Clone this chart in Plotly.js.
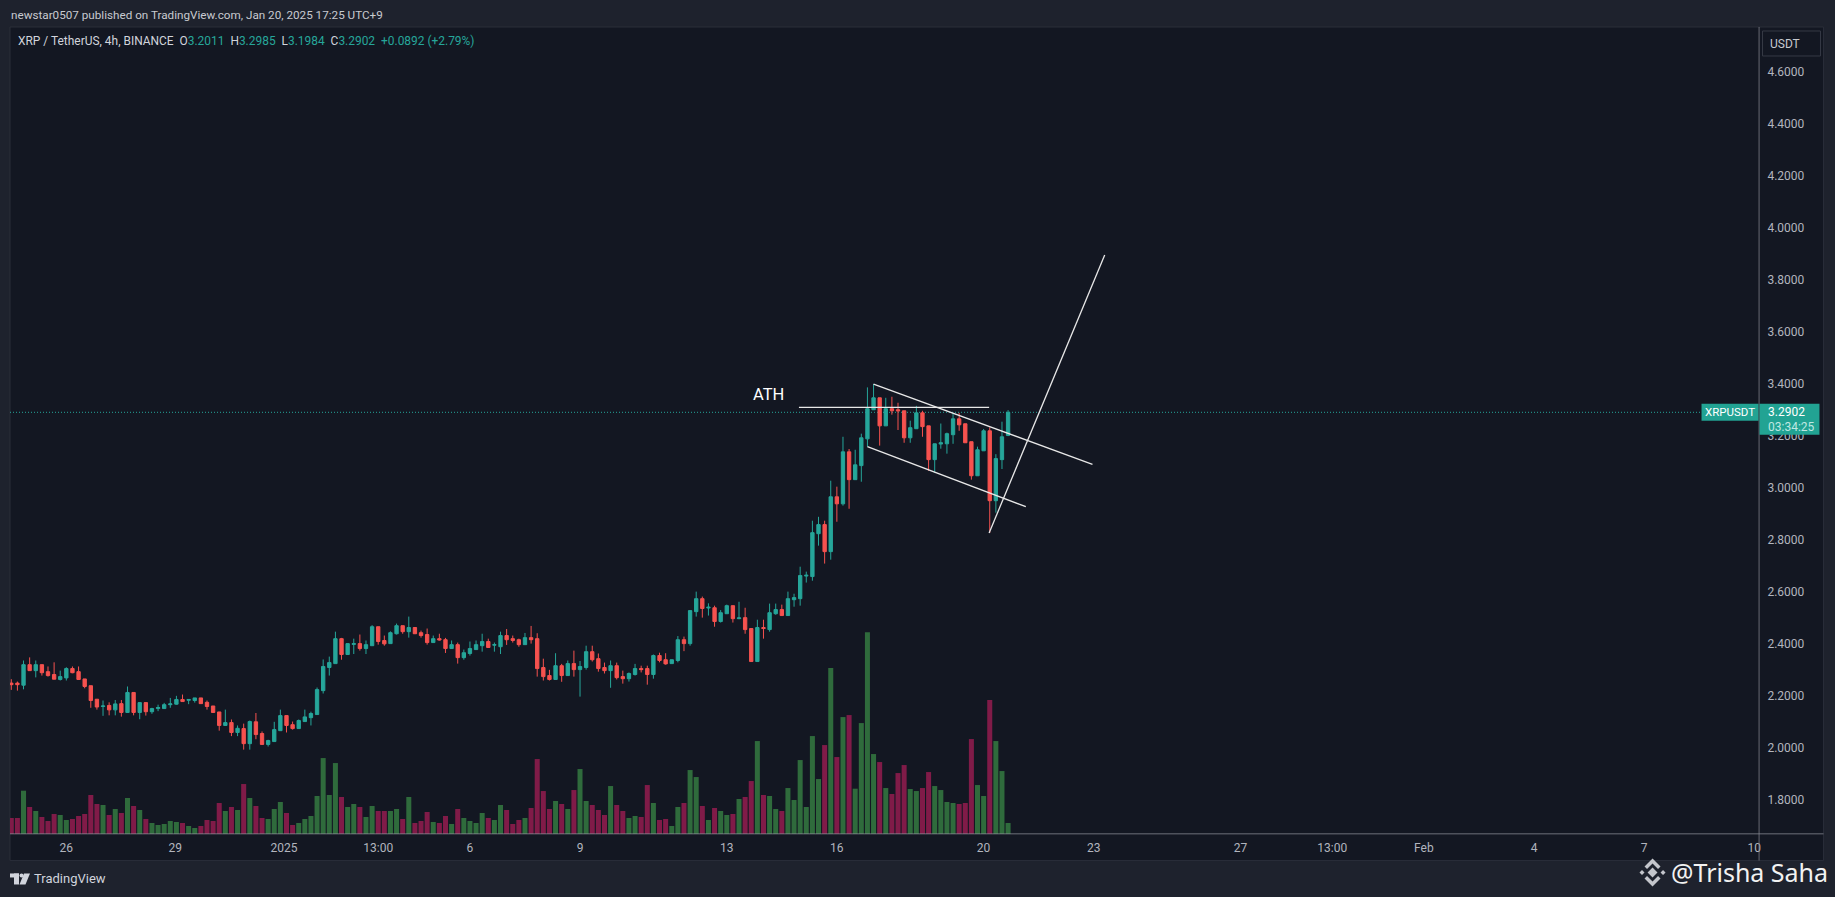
<!DOCTYPE html>
<html><head><meta charset="utf-8">
<script src="https://cdn.plot.ly/plotly-3.0.1.min.js"></script>
<style>html,body{margin:0;padding:0;background:#1e222d;overflow:hidden}#c{width:1835px;height:897px}</style>
</head><body><div id="c"></div>
<script>
const opens=[2.248,2.248,2.240,2.319,2.296,2.319,2.292,2.281,2.262,2.268,
2.304,2.292,2.264,2.238,2.186,2.158,2.162,2.145,2.169,2.135,
2.212,2.135,2.173,2.138,2.150,2.150,2.165,2.167,2.185,2.182,
2.181,2.191,2.174,2.160,2.137,2.085,2.096,2.058,2.073,2.015,
2.099,2.054,2.012,2.023,2.065,2.123,2.088,2.073,2.100,2.115,
2.127,2.219,2.308,2.323,2.419,2.358,2.397,2.400,2.381,2.392,
2.465,2.412,2.400,2.438,2.469,2.446,2.462,2.442,2.435,2.404,
2.419,2.415,2.381,2.396,2.346,2.362,2.377,2.392,2.408,2.394,
2.388,2.431,2.419,2.415,2.396,2.423,2.419,2.308,2.277,2.262,
2.315,2.277,2.323,2.300,2.308,2.369,2.342,2.308,2.296,2.315,
2.273,2.265,2.281,2.304,2.304,2.281,2.354,2.338,2.323,2.335,
2.415,2.400,2.523,2.573,2.537,2.538,2.485,2.515,2.546,2.496,
2.500,2.458,2.331,2.462,2.454,2.515,2.531,2.508,2.569,2.573,
2.660,2.658,2.823,2.858,2.754,2.965,2.938,3.138,3.031,3.085,
3.188,3.300,3.346,3.238,3.304,3.300,3.296,3.192,3.227,3.288,
3.238,3.108,3.168,3.169,3.204,3.265,3.246,3.177,3.046,3.142,
3.219,2.950,3.108,3.2011];
const highs=[2.263,2.254,2.335,2.347,2.335,2.319,2.312,2.328,2.296,2.309,
2.312,2.312,2.264,2.238,2.186,2.181,2.174,2.183,2.183,2.235,
2.212,2.173,2.173,2.153,2.165,2.172,2.191,2.199,2.204,2.185,
2.191,2.191,2.181,2.160,2.137,2.146,2.108,2.085,2.092,2.104,
2.133,2.062,2.030,2.099,2.146,2.123,2.100,2.108,2.146,2.138,
2.231,2.339,2.350,2.446,2.422,2.400,2.419,2.435,2.412,2.471,
2.465,2.431,2.447,2.477,2.469,2.504,2.462,2.450,2.458,2.431,
2.438,2.422,2.412,2.404,2.377,2.408,2.412,2.438,2.419,2.404,
2.446,2.456,2.431,2.419,2.441,2.468,2.440,2.342,2.299,2.363,
2.322,2.335,2.373,2.333,2.392,2.392,2.362,2.327,2.335,2.327,
2.296,2.289,2.322,2.315,2.315,2.358,2.365,2.363,2.338,2.429,
2.427,2.527,2.600,2.581,2.555,2.546,2.529,2.550,2.546,2.561,
2.538,2.458,2.492,2.492,2.554,2.554,2.550,2.600,2.592,2.696,
2.677,2.873,2.888,2.873,3.027,3.004,3.196,3.149,3.146,3.208,
3.386,3.399,3.346,3.346,3.350,3.327,3.296,3.258,3.315,3.296,
3.238,3.169,3.247,3.212,3.288,3.288,3.246,3.177,3.158,3.226,
3.232,3.129,3.254,3.2985];
const lows=[2.222,2.219,2.224,2.296,2.270,2.277,2.273,2.263,2.258,2.258,
2.286,2.260,2.228,2.153,2.146,2.122,2.124,2.124,2.119,2.135,
2.124,2.109,2.123,2.130,2.140,2.150,2.153,2.165,2.177,2.167,
2.173,2.169,2.146,2.135,2.065,2.083,2.044,2.044,1.992,1.992,
2.032,2.012,2.004,2.023,2.065,2.058,2.069,2.073,2.100,2.085,
2.127,2.208,2.277,2.323,2.338,2.358,2.360,2.373,2.360,2.392,
2.396,2.392,2.400,2.435,2.438,2.423,2.438,2.423,2.396,2.404,
2.412,2.364,2.381,2.323,2.338,2.354,2.377,2.369,2.385,2.369,
2.360,2.395,2.404,2.388,2.396,2.400,2.273,2.258,2.258,2.262,
2.253,2.277,2.273,2.196,2.300,2.331,2.292,2.285,2.230,2.262,
2.246,2.254,2.277,2.289,2.242,2.265,2.328,2.319,2.323,2.328,
2.371,2.392,2.504,2.500,2.508,2.465,2.481,2.515,2.481,2.494,
2.438,2.331,2.331,2.419,2.446,2.511,2.508,2.508,2.542,2.546,
2.635,2.642,2.777,2.708,2.723,2.869,2.931,2.919,3.031,3.023,
3.158,3.300,3.162,3.238,3.281,3.222,3.173,3.173,3.227,3.196,
3.065,3.058,3.150,3.131,3.169,3.219,3.173,3.031,3.046,3.142,
2.826,2.904,3.072,3.1984];
const closes=[2.242,2.242,2.319,2.296,2.319,2.288,2.277,2.263,2.273,2.304,
2.288,2.262,2.235,2.181,2.156,2.160,2.145,2.168,2.135,2.212,
2.135,2.173,2.138,2.150,2.154,2.165,2.168,2.185,2.177,2.185,
2.191,2.169,2.158,2.135,2.085,2.096,2.058,2.074,2.015,2.100,
2.050,2.012,2.027,2.069,2.123,2.085,2.073,2.104,2.118,2.131,
2.223,2.312,2.327,2.419,2.358,2.400,2.400,2.381,2.396,2.465,
2.408,2.399,2.442,2.469,2.446,2.462,2.438,2.431,2.404,2.419,
2.414,2.381,2.396,2.346,2.365,2.381,2.396,2.408,2.385,2.396,
2.431,2.415,2.412,2.396,2.423,2.415,2.304,2.273,2.262,2.315,
2.277,2.323,2.300,2.312,2.369,2.338,2.304,2.296,2.315,2.269,
2.265,2.285,2.304,2.300,2.281,2.354,2.335,2.322,2.338,2.415,
2.400,2.527,2.573,2.535,2.540,2.485,2.519,2.546,2.496,2.499,
2.454,2.331,2.462,2.458,2.519,2.531,2.508,2.573,2.577,2.662,
2.663,2.827,2.858,2.754,2.965,2.938,3.138,3.031,3.088,3.192,
3.304,3.346,3.238,3.304,3.296,3.296,3.192,3.231,3.288,3.235,
3.108,3.169,3.173,3.208,3.265,3.242,3.173,3.046,3.146,3.219,
2.950,3.112,3.196,3.2902];
const volumes=[48,48,130,81,69,51,39,60,57,42,
45,54,60,117,90,87,57,75,63,108,
84,72,45,33,27,30,39,36,33,24,
18,24,42,39,93,69,81,72,150,108,
84,48,45,75,96,63,27,33,45,54,
114,228,117,213,111,81,90,81,51,84,
69,69,69,75,45,111,33,39,66,36,
33,54,30,75,48,39,33,63,48,42,
87,72,30,42,48,78,225,129,75,99,
90,75,132,195,99,87,72,57,144,87,
69,48,54,51,147,93,42,45,24,81,
93,192,171,84,42,78,69,57,60,105,
111,159,279,117,114,75,69,138,102,222,
81,294,165,267,498,231,351,357,136,333,
606,240,216,138,120,183,207,135,129,138,
186,144,132,96,93,90,93,285,147,114,
402,279,189,33];
const xTickPositions=[9,26.8,44.6,60,75,93,117,135,159,177,201,216,231,249,267,285];
const xTickLabels=["26","29","2025","13:00","6","9","13","16","20","23","27","13:00","Feb","4","7","10"];
const priceTicks=[1.8,2.0,2.2,2.4,2.6,2.8,3.0,3.2,3.4,3.6,3.8,4.0,4.2,4.4,4.6];
const lastPrice=3.2902;
const athX=[128.8,159.9], athY=[3.309,3.309];
const channelTopX=[141.0,176.8], channelTopY=[3.399,3.09];
const channelLowX=[140.0,165.9], channelLowY=[3.158,2.927];
const projectionX=[159.9,178.8], projectionY=[2.826,3.896];

const L=10,R=1759.5,T=27,B=834.5,W=1835,H=897;
const px=x=>(x-L)/(R-L), py=y=>1-(y-T)/(B-T);
const step=6.117, x0=11.3;
const xs=opens.map((_,i)=>i);
const UP='#26a69a',DN='#f6524f',VUP='#2f6b3c',VDN='#801b48',TXT='#b2b5be',AX='#8a8d96';
const rect=(x1,y1,x2,y2,fill,line)=>({type:'rect',xref:'paper',yref:'paper',x0:px(x1),x1:px(x2),y0:py(y2),y1:py(y1),fillcolor:fill,line:{width:line?1:0,color:line||fill},layer:'above'});
const poly=(pts,fill)=>({type:'path',xref:'paper',yref:'paper',path:'M'+pts.map(p=>px(p[0]).toFixed(5)+','+py(p[1]).toFixed(5)).join('L')+'Z',fillcolor:fill,line:{width:0},layer:'above'});
const txt=(x,y,t,size,color,anchor,font)=>({xref:'paper',yref:'paper',x:px(x),y:py(y),text:t,showarrow:false,xanchor:anchor||'left',yanchor:'middle',borderpad:0,font:{family:font||'Roboto',size:size,color:color}});
const G=c=>'<span style="color:'+UP+'">'+c+'</span>';
const bcx=1653,bcy=873,bc='#c4c6cc';
const panel=rect(10,27,1824,861,'#131722','#2a2e39');panel.layer='below';
const shapes=[panel,
 rect(1759.2,27,1759.9,861,AX),rect(10,834,1824,834.8,AX),
 {type:'line',xref:'paper',yref:'y',x0:0,x1:1,y0:lastPrice,y1:lastPrice,line:{color:UP,width:1,dash:'1px,2px'},layer:'below'},
 rect(1702,404,1759,421,'#22a393'),rect(1760,404,1820,435,'#22a393'),
 rect(1763,31,1821,56,'#131722','#363a45'),
 rect(10,874,19,878,'#d1d4dc'),rect(14,874,19,885,'#d1d4dc'),
 poly([[24,874],[30,874],[25.5,885],[19.5,885]],'#d1d4dc'),
 {type:'circle',xref:'paper',yref:'paper',x0:px(19.5),x1:px(23.5),y0:py(878),y1:py(874),fillcolor:'#d1d4dc',line:{width:0},layer:'above'},
 poly([[bcx,bcy-5],[bcx+5,bcy],[bcx,bcy+5],[bcx-5,bcy]],bc),
 poly([[bcx-13,bcy],[bcx-10.5,bcy-2.5],[bcx-8,bcy],[bcx-10.5,bcy+2.5]],bc),
 poly([[bcx+13,bcy],[bcx+10.5,bcy-2.5],[bcx+8,bcy],[bcx+10.5,bcy+2.5]],bc),
 poly([[bcx,bcy-14],[bcx+8,bcy-6],[bcx+5.5,bcy-3.5],[bcx,bcy-9],[bcx-5.5,bcy-3.5],[bcx-8,bcy-6]],bc),
 poly([[bcx,bcy+14],[bcx+8,bcy+6],[bcx+5.5,bcy+3.5],[bcx,bcy+9],[bcx-5.5,bcy+3.5],[bcx-8,bcy+6]],bc)
];
const annotations=[
 txt(10,15,'newstar0507 published on TradingView.com, Jan 20, 2025 17:25 UTC+9',11.7,'#c8cad0'),
 txt(17,41.5,'XRP / TetherUS, 4h, BINANCE &nbsp;O'+G('3.2011')+' &nbsp;H'+G('3.2985')+' &nbsp;L'+G('3.1984')+' &nbsp;C'+G('3.2902')+' &nbsp;'+G('+0.0892 (+2.79%)'),11.95,'#d1d4dc'),
 {x:123.9,y:3.36,xref:'x',yref:'y',text:'ATH',showarrow:false,font:{family:'Roboto',size:16.5,color:'#ffffff'}},
 txt(1786,44,'USDT',12,'#c8cad0','center'),
 txt(1730.5,412.5,'XRPUSDT',11.5,'#ffffff','center'),
 txt(1768,412.5,'3.2902',12,'#ffffff'),
 txt(1768,427,'03:34:25',12,'#bfe8e2'),
 txt(33,879,'TradingView',13,'#d1d4dc'),
 txt(1670,873,'@Trisha Saha',25,'#f2f2f2','left','Noto Sans')
];
const lineStyle={color:'#e8e8e8',width:1.3};
const seg=(x,y)=>({type:'scatter',mode:'lines',x:x,y:y,line:lineStyle,hoverinfo:'skip',showlegend:false});
const data=[
 {type:'candlestick',x:xs,open:opens,high:highs,low:lows,close:closes,whiskerwidth:0,
  increasing:{line:{color:UP,width:1},fillcolor:UP},decreasing:{line:{color:DN,width:1},fillcolor:DN},showlegend:false,hoverinfo:'skip'},
 seg(athX,athY),seg(channelTopX,channelTopY),seg(channelLowX,channelLowY),seg(projectionX,projectionY),
 {type:'bar',x:xs,y:volumes,yaxis:'y2',width:0.82,marker:{color:xs.map(i=>closes[i]>=opens[i]?VUP:VDN),line:{width:0}},showlegend:false,hoverinfo:'skip'}
];
const layout={width:W,height:H,margin:{l:L,r:W-R,t:T,b:H-B,pad:0},paper_bgcolor:'#1e222d',plot_bgcolor:'rgba(0,0,0,0)',
 showlegend:false,boxgap:0.22,dragmode:false,
 xaxis:{range:[(L-x0)/step,(R-x0)/step],tickmode:'array',tickvals:xTickPositions,ticktext:xTickLabels,showgrid:false,zeroline:false,showline:false,
  rangeslider:{visible:false},ticks:'outside',ticklen:3,tickcolor:'rgba(0,0,0,0)',tickfont:{family:'Roboto',size:12,color:TXT}},
 yaxis:{side:'right',range:[1.6673,4.7730],tickmode:'array',tickvals:priceTicks,tickformat:'.4f',showgrid:false,zeroline:false,showline:false,
  ticks:'outside',ticklen:5,tickcolor:'rgba(0,0,0,0)',tickfont:{family:'Roboto',size:12,color:TXT}},
 yaxis2:{overlaying:'y',side:'left',range:[0,2422.5],visible:false,fixedrange:true},
 shapes:shapes,annotations:annotations};
Plotly.newPlot('c',data,layout,{staticPlot:true,displayModeBar:false});
</script></body></html>
